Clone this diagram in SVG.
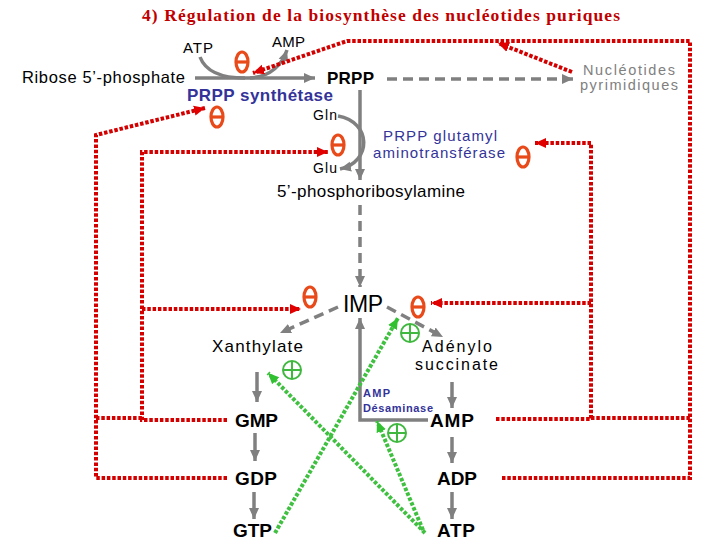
<svg xmlns="http://www.w3.org/2000/svg" width="720" height="540" viewBox="0 0 720 540">
<style>
.t{font-family:"Liberation Sans",Arial,sans-serif;fill:#000}
.b{font-weight:bold}
.blue{fill:#333399}
.gr{fill:#808080}
.title{font-family:"Liberation Serif","Times New Roman",serif;font-weight:bold;font-size:17.5px;fill:#c00000}
.ga{fill:none;stroke:#808080;stroke-width:3.5;marker-end:url(#mg)}
.gl{fill:none;stroke:#808080;stroke-width:3.5}
.gd{stroke-dasharray:10 6}
.rd{fill:none;stroke:#d40000;stroke-width:4;stroke-dasharray:3.5 1.8}
.rda{marker-end:url(#mr)}
.gn{fill:none;stroke:#40c040;stroke-width:4;stroke-dasharray:3.5 1.8;marker-end:url(#mgn)}
.th{fill:none;stroke:#e84a1a;stroke-width:3.2}
.pl{fill:none;stroke:#40b840;stroke-width:2}
</style>
<defs>
<marker id="mg" markerUnits="userSpaceOnUse" markerWidth="12" markerHeight="12" viewBox="0 0 12 12" refX="11" refY="6" orient="auto"><path d="M0,1 L11,6 L0,11 Z" fill="#808080"/></marker>
<marker id="mr" markerUnits="userSpaceOnUse" markerWidth="12" markerHeight="12" viewBox="0 0 12 12" refX="11" refY="6" orient="auto"><path d="M0,1 L11,6 L0,11 Z" fill="#e00000"/></marker>
<marker id="mgn" markerUnits="userSpaceOnUse" markerWidth="12" markerHeight="12" viewBox="0 0 12 12" refX="11" refY="6" orient="auto"><path d="M0,1 L11,6 L0,11 Z" fill="#30c030"/></marker>
<g id="theta"><ellipse cx="0" cy="0" rx="6" ry="10" class="th"/><line x1="-6" y1="0" x2="6" y2="0" class="th"/></g>
<g id="plus"><circle cx="0" cy="0" r="9" class="pl"/><line x1="-9" y1="0" x2="9" y2="0" class="pl"/><line x1="0" y1="-9" x2="0" y2="9" class="pl"/></g>
</defs>
<rect width="720" height="540" fill="#fff"/>
<text id="title" class="title" x="381" y="21" text-anchor="middle" textLength="478">4) Régulation de la biosynthèse des nucléotides puriques</text>

<g id="connectors">
<path class="ga" d="M195,78 L315,78"/>
<path class="gl" d="M200,57 Q208,78 245,78"/>
<path class="ga" d="M250,78 Q278,76 287,50"/>
<path class="ga" d="M360,90 L360,180"/>
<path class="ga" d="M338,116 C372,122 372,162 340,169"/>
<path class="ga gd" d="M387,79 L573,79"/>
<path class="ga gd" d="M360,205 L360,287"/>
<path class="ga gd" d="M338,307 L280,333"/>
<path class="ga gd" d="M387,307 L443,337"/>
<path class="ga" d="M428,420 L360,420 L360,318"/>
<path class="ga" d="M257,372 L257,402"/>
<path class="ga" d="M255,433 L255,461"/>
<path class="ga" d="M254,492 L254,519"/>
<path class="ga" d="M452,382 L452,408"/>
<path class="ga" d="M452,437 L452,463"/>
<path class="ga" d="M452,492 L452,519"/>
<path class="rd rda" d="M502,478 L690,478 L690,41 L347,41 L253,73"/>
<path class="rd rda" d="M572,72 L498,43"/>
<path class="rd rda" d="M496,419 L591,419 L591,143 L535,143"/>
<path class="rd rda" d="M591,303 L431,303"/>
<path class="rd" d="M591,418 L690,418"/>
<path class="rd rda" d="M227,478 L96,478 L96,135 L205,108"/>
<path class="rd" d="M96,418 L142,418"/>
<path class="rd rda" d="M227,420 L142,420 L142,152 L328,152"/>
<path class="rd rda" d="M142,309 L301,309"/>
<path class="gn" d="M275,533 L398,318"/>
<path class="gn" d="M425,533 L268,373"/>
<path class="gn" d="M423,530 L377,421"/>
</g>

<g id="regulators">
<use href="#theta" x="242" y="62"/>
<use href="#theta" x="217" y="117"/>
<use href="#theta" x="338" y="145"/>
<use href="#theta" x="523" y="157"/>
<use href="#theta" x="310" y="297"/>
<use href="#theta" x="418" y="307"/>
<use href="#plus" x="292" y="370"/>
<use href="#plus" x="410" y="333"/>
<use href="#plus" x="397" y="433"/>
</g>

<g id="n-atp1"><text class="t" x="183" y="53" font-size="15" textLength="30">ATP</text></g>
<g id="n-amp1"><text class="t" x="272" y="47" font-size="15" textLength="33">AMP</text></g>
<g id="n-ribose"><text class="t" x="22" y="83" font-size="16.5" textLength="163">Ribose 5’-phosphate</text></g>
<g id="n-prppsynth"><text class="t b blue" x="187" y="101" font-size="17" textLength="146">PRPP synthétase</text></g>
<g id="n-prpp"><text class="t b" x="327" y="84" font-size="17" textLength="47">PRPP</text></g>
<g id="n-pyr"><text class="t gr" x="629" y="75" font-size="14.5" text-anchor="middle" textLength="92">Nucléotides</text><text class="t gr" x="629" y="90" font-size="14.5" text-anchor="middle" textLength="98">pyrimidiques</text></g>
<g id="n-gln"><text class="t" x="313" y="120" font-size="14" textLength="24">Gln</text></g>
<g id="n-glu"><text class="t" x="313" y="173" font-size="14" textLength="24">Glu</text></g>
<g id="n-enz2"><text class="t blue" x="440" y="141" font-size="15" text-anchor="middle" textLength="114">PRPP glutamyl</text><text class="t blue" x="439" y="158" font-size="15" text-anchor="middle" textLength="132">aminotransférase</text></g>
<g id="n-pra"><text class="t" x="277" y="197" font-size="17" textLength="188">5’-phosphoribosylamine</text></g>
<g id="n-imp"><text class="t" x="343" y="312" font-size="23" textLength="40">IMP</text></g>
<g id="n-xan"><text class="t" x="212" y="352" font-size="17" textLength="91">Xanthylate</text></g>
<g id="n-ads"><text class="t" x="422" y="352" font-size="16" textLength="70">Adénylo</text><text class="t" x="415" y="370" font-size="16" textLength="83">succinate</text></g>
<g id="n-ampdes"><text class="t b blue" x="363" y="397" font-size="11" textLength="27">AMP</text><text class="t b blue" x="363" y="412" font-size="11" textLength="70">Désaminase</text></g>
<g id="n-gmp"><text class="t b" x="235" y="427" font-size="19" textLength="43">GMP</text></g>
<g id="n-gdp"><text class="t b" x="235" y="485" font-size="19" textLength="42">GDP</text></g>
<g id="n-gtp"><text class="t b" x="233" y="537" font-size="19" textLength="39">GTP</text></g>
<g id="n-amp"><text class="t b" x="430" y="427" font-size="19" textLength="44">AMP</text></g>
<g id="n-adp"><text class="t b" x="437" y="485" font-size="19" textLength="40">ADP</text></g>
<g id="n-atp"><text class="t b" x="437" y="537" font-size="19" textLength="38">ATP</text></g>
</svg>
